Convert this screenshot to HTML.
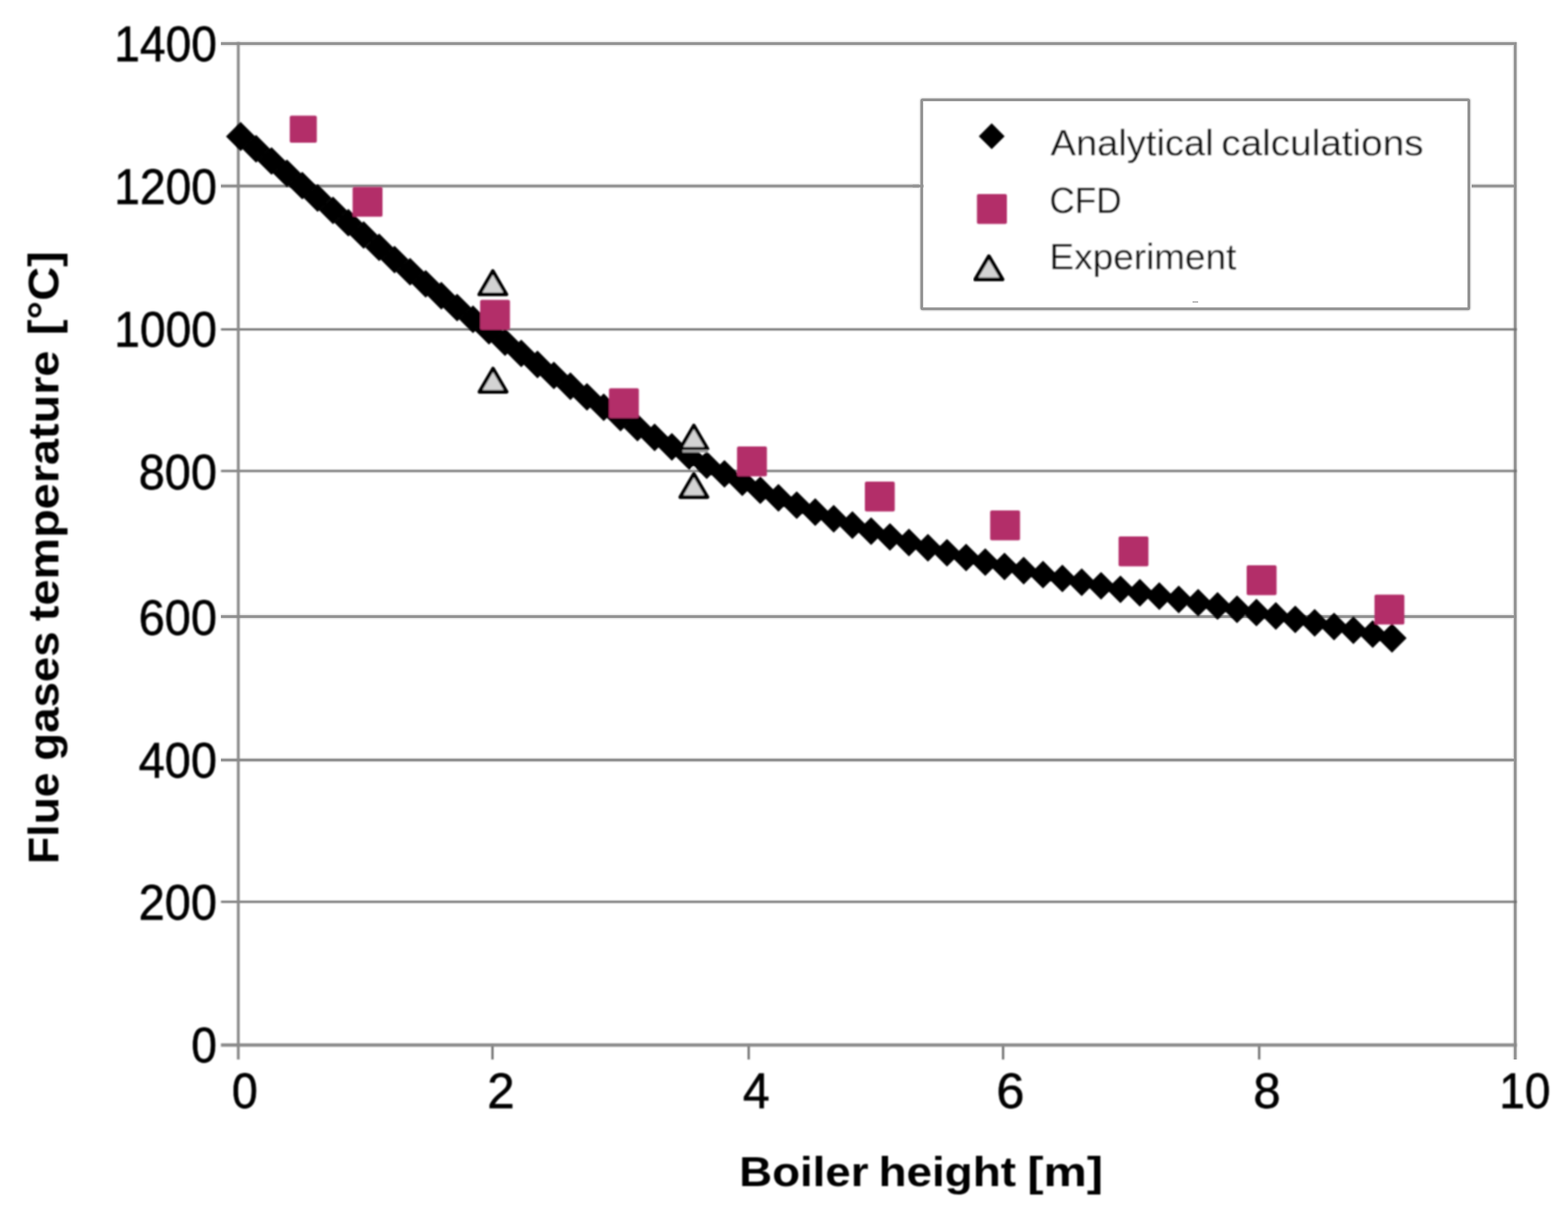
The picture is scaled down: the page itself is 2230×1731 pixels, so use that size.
<!DOCTYPE html>
<html lang="en"><head><meta charset="utf-8"><title>Flue gases temperature vs boiler height</title>
<style>
html,body{margin:0;padding:0;background:#fff;}
body{width:2230px;height:1731px;overflow:hidden;}
svg{display:block;}
text{font-family:"Liberation Sans",sans-serif;fill:#000;}
.tick{font-size:69.8px;stroke:#000;stroke-width:0.8;}
.ttl{font-weight:bold;}
.leg{font-size:51.5px;stroke:#fff;stroke-width:0.35;}
.halo{fill:#ececec;}
.a{fill:#939393;}
.b{fill:#6e6e6e;}
.c{fill:#8a8a8a;}
.tri{fill:#d3d3d3;stroke:#000;stroke-width:5.2;stroke-linejoin:round;}
.sq{fill:#b32d69;}
.dia{fill:#000;stroke:#000;stroke-width:1.2;stroke-linejoin:round;}
</style></head><body>
<svg width="2230" height="1731" viewBox="0 0 2230 1731">
<defs>
<filter id="b05" x="-5%" y="-5%" width="110%" height="110%"><feGaussianBlur stdDeviation="0.5"/></filter>
<filter id="b10" x="-5%" y="-5%" width="110%" height="110%"><feGaussianBlur stdDeviation="1.0"/></filter>
<filter id="b13" x="-5%" y="-5%" width="110%" height="110%"><feGaussianBlur stdDeviation="1.3"/></filter>
<filter id="bs" x="-5%" y="-5%" width="110%" height="110%"><feGaussianBlur stdDeviation="1.3"/></filter>
<filter id="bt" x="-5%" y="-5%" width="110%" height="110%"><feGaussianBlur stdDeviation="1.0"/></filter>
</defs>
<rect width="2230" height="1731" fill="#fff"/>
<g filter="url(#b05)"><rect class="halo" x="314.2" y="58" width="1842.7" height="8"/><rect class="halo" x="314.2" y="260.6" width="1842.7" height="8"/><rect class="halo" x="314.2" y="873" width="1842.7" height="8"/><rect class="halo" x="314.2" y="1077" width="1842.7" height="8"/><rect class="halo" x="2150.9" y="60" width="8" height="1447"/><rect class="a" x="314.2" y="60" width="1842.7" height="4"/><rect class="a" x="314.2" y="262.6" width="1842.7" height="4"/><rect class="a" x="314.2" y="875" width="1842.7" height="4"/><rect class="a" x="314.2" y="1079" width="1842.7" height="4"/><rect class="a" x="2152.9" y="60" width="4" height="1447"/></g>
<g filter="url(#b10)"><rect class="b" x="314.2" y="467" width="1842.7" height="3"/><rect class="b" x="314.2" y="668.4" width="1842.7" height="3"/><rect class="b" x="314.2" y="1281.2" width="1842.7" height="3"/><rect class="b" x="698.8" y="1486" width="3.2" height="21"/><rect class="b" x="1063.2" y="1486" width="3.2" height="21"/><rect class="b" x="1425" y="1486" width="3.2" height="21"/><rect class="b" x="1789.2" y="1486" width="3.2" height="21"/></g>
<g filter="url(#b13)"><rect class="c" x="314.2" y="1484" width="1842.7" height="4.8"/><rect class="c" x="336.9" y="60" width="4" height="1447"/></g>
<g filter="url(#bs)">
<path fill="none" stroke="#000" stroke-width="5" stroke-linejoin="round" d="M342.2 194.2L364.2 211.6L386.2 229L408.1 246.5L429.9 264L451.7 281.6L473.6 299.2L495.4 316.8L517.2 334.3L539.2 351.8L561.1 369.2L583.2 386.5L605.4 403.7L627.6 420.6L650.1 437.5L672.7 454.1L695.4 470.5L718.2 486.7L741.3 502.7L764.4 518.4L787.7 534L811.2 549.4L834.8 564.5L858.6 579.3L882.5 593.9L906.6 608.2L931 622.1L955.5 635.6L980.2 648.8L1005.1 661.6L1030.3 674L1055.7 685.9L1081.3 697.3L1107.1 708.1L1133.1 718.5L1159.4 728.4L1185.7 737.9L1212.3 746.9L1238.9 755.5L1265.7 763.7L1292.7 771.6L1319.7 779.1L1346.8 786.2L1374 793L1401.2 799.5L1428.6 805.7L1455.9 811.6L1483.4 817.3L1510.9 822.8L1538.4 828.1L1565.9 833.2L1593.5 838.2L1621.1 843.1L1648.7 847.9L1676.4 852.6L1704 857.3L1731.6 861.9L1759.3 866.6L1786.9 871.3L1814.5 876.1L1842.1 881L1869.7 885.9L1897.3 891.1L1924.8 896.4L1952.3 901.9L1979.7 907.6"/>
<path class="dia" d="M342.2 174.2l20.0 20.0l-20.0 20.0l-20.0 -20.0zM364.2 192.7l18.9 18.9l-18.9 18.9l-18.9 -18.9zM386.2 210.1l18.9 18.9l-18.9 18.9l-18.9 -18.9zM408.1 227.6l18.9 18.9l-18.9 18.9l-18.9 -18.9zM429.9 245.1l18.9 18.9l-18.9 18.9l-18.9 -18.9zM451.7 262.7l18.9 18.9l-18.9 18.9l-18.9 -18.9zM473.6 280.3l18.9 18.9l-18.9 18.9l-18.9 -18.9zM495.4 297.9l18.9 18.9l-18.9 18.9l-18.9 -18.9zM517.2 315.4l18.9 18.9l-18.9 18.9l-18.9 -18.9zM539.2 332.9l18.9 18.9l-18.9 18.9l-18.9 -18.9zM561.1 350.3l18.9 18.9l-18.9 18.9l-18.9 -18.9zM583.2 367.6l18.9 18.9l-18.9 18.9l-18.9 -18.9zM605.4 384.8l18.9 18.9l-18.9 18.9l-18.9 -18.9zM627.6 401.7l18.9 18.9l-18.9 18.9l-18.9 -18.9zM650.1 418.6l18.9 18.9l-18.9 18.9l-18.9 -18.9zM672.7 435.2l18.9 18.9l-18.9 18.9l-18.9 -18.9zM695.4 451.6l18.9 18.9l-18.9 18.9l-18.9 -18.9zM718.2 467.8l18.9 18.9l-18.9 18.9l-18.9 -18.9zM741.3 483.8l18.9 18.9l-18.9 18.9l-18.9 -18.9zM764.4 499.5l18.9 18.9l-18.9 18.9l-18.9 -18.9zM787.7 515.1l18.9 18.9l-18.9 18.9l-18.9 -18.9zM811.2 530.5l18.9 18.9l-18.9 18.9l-18.9 -18.9zM834.8 545.6l18.9 18.9l-18.9 18.9l-18.9 -18.9zM858.6 560.4l18.9 18.9l-18.9 18.9l-18.9 -18.9zM882.5 575l18.9 18.9l-18.9 18.9l-18.9 -18.9zM906.6 589.3l18.9 18.9l-18.9 18.9l-18.9 -18.9zM931 603.2l18.9 18.9l-18.9 18.9l-18.9 -18.9zM955.5 616.7l18.9 18.9l-18.9 18.9l-18.9 -18.9zM980.2 629.9l18.9 18.9l-18.9 18.9l-18.9 -18.9zM1005.1 642.7l18.9 18.9l-18.9 18.9l-18.9 -18.9zM1030.3 655.1l18.9 18.9l-18.9 18.9l-18.9 -18.9zM1055.7 667l18.9 18.9l-18.9 18.9l-18.9 -18.9zM1081.3 678.4l18.9 18.9l-18.9 18.9l-18.9 -18.9zM1107.1 689.2l18.9 18.9l-18.9 18.9l-18.9 -18.9zM1133.1 699.6l18.9 18.9l-18.9 18.9l-18.9 -18.9zM1159.4 709.5l18.9 18.9l-18.9 18.9l-18.9 -18.9zM1185.7 719l18.9 18.9l-18.9 18.9l-18.9 -18.9zM1212.3 728l18.9 18.9l-18.9 18.9l-18.9 -18.9zM1238.9 736.6l18.9 18.9l-18.9 18.9l-18.9 -18.9zM1265.7 744.8l18.9 18.9l-18.9 18.9l-18.9 -18.9zM1292.7 752.7l18.9 18.9l-18.9 18.9l-18.9 -18.9zM1319.7 760.2l18.9 18.9l-18.9 18.9l-18.9 -18.9zM1346.8 767.3l18.9 18.9l-18.9 18.9l-18.9 -18.9zM1374 774.1l18.9 18.9l-18.9 18.9l-18.9 -18.9zM1401.2 780.6l18.9 18.9l-18.9 18.9l-18.9 -18.9zM1428.6 786.8l18.9 18.9l-18.9 18.9l-18.9 -18.9zM1455.9 792.7l18.9 18.9l-18.9 18.9l-18.9 -18.9zM1483.4 798.4l18.9 18.9l-18.9 18.9l-18.9 -18.9zM1510.9 803.9l18.9 18.9l-18.9 18.9l-18.9 -18.9zM1538.4 809.2l18.9 18.9l-18.9 18.9l-18.9 -18.9zM1565.9 814.3l18.9 18.9l-18.9 18.9l-18.9 -18.9zM1593.5 819.3l18.9 18.9l-18.9 18.9l-18.9 -18.9zM1621.1 824.2l18.9 18.9l-18.9 18.9l-18.9 -18.9zM1648.7 829l18.9 18.9l-18.9 18.9l-18.9 -18.9zM1676.4 833.7l18.9 18.9l-18.9 18.9l-18.9 -18.9zM1704 838.4l18.9 18.9l-18.9 18.9l-18.9 -18.9zM1731.6 843l18.9 18.9l-18.9 18.9l-18.9 -18.9zM1759.3 847.7l18.9 18.9l-18.9 18.9l-18.9 -18.9zM1786.9 852.4l18.9 18.9l-18.9 18.9l-18.9 -18.9zM1814.5 857.2l18.9 18.9l-18.9 18.9l-18.9 -18.9zM1842.1 862.1l18.9 18.9l-18.9 18.9l-18.9 -18.9zM1869.7 867l18.9 18.9l-18.9 18.9l-18.9 -18.9zM1897.3 872.2l18.9 18.9l-18.9 18.9l-18.9 -18.9zM1924.8 877.5l18.9 18.9l-18.9 18.9l-18.9 -18.9zM1952.3 883l18.9 18.9l-18.9 18.9l-18.9 -18.9zM1979.7 887.6l20.0 20.0l-20.0 20.0l-20.0 -20.0z"/>
<rect class="sq" x="412.1" y="164.4" width="38.5" height="38.5" rx="2.5"/>
<rect class="sq" x="501.5" y="265.8" width="42.5" height="42.5" rx="2.5"/>
<rect class="sq" x="682.8" y="426.6" width="42.5" height="42.5" rx="2.5"/>
<rect class="sq" x="866.1" y="552.2" width="42.5" height="42.5" rx="2.5"/>
<rect class="sq" x="1048.2" y="635" width="42.5" height="42.5" rx="2.5"/>
<rect class="sq" x="1230" y="685.1" width="42.5" height="42.5" rx="2.5"/>
<rect class="sq" x="1408.2" y="726" width="42.5" height="42.5" rx="2.5"/>
<rect class="sq" x="1590.8" y="763" width="42.5" height="42.5" rx="2.5"/>
<rect class="sq" x="1773" y="804.1" width="42.5" height="42.5" rx="2.5"/>
<rect class="sq" x="1954.8" y="845.8" width="42.5" height="42.5" rx="2.5"/>
<path class="tri" d="M700.9 385.6L720.2 418.7L681.6 418.7z"/>
<path class="tri" d="M701.2 524.2L720.5 557.3L681.9 557.3z"/>
<path class="tri" d="M986.8 605.2L1006.1 638.3L967.5 638.3z"/>
<path class="tri" d="M986.8 674L1006.1 707.1L967.5 707.1z"/>
<rect x="970.7" y="640" width="36.1" height="3.6" fill="#a4a4a4"/>
<rect x="984.3" y="665.2" width="4" height="3" fill="#d8d8d8"/>
</g>
<g filter="url(#b05)">
<rect x="1310.9" y="142.0" width="778.1" height="297.2" rx="1.5" fill="#fff" stroke="#ececec" stroke-width="8"/>
<rect x="1310.9" y="142.0" width="778.1" height="297.2" rx="1.5" fill="#fff" stroke="#939393" stroke-width="4"/>
<rect class="a" x="1298" y="262.6" width="15.5" height="4"/>
<rect x="1696" y="428.5" width="8" height="2" fill="#aaa"/>
</g>
<g filter="url(#bs)">
<path class="dia" d="M1410.4 176.2l17.6 17.6l-17.6 17.6l-17.6 -17.6z"/>
<rect class="sq" x="1389.4" y="276" width="42.6" height="42.4" rx="2.5"/>
<path class="tri" d="M1406.4 364.4L1425.8 397.4L1387 397.4z"/>
</g>
<g filter="url(#bt)">
<text class="tick" transform="translate(308.5 86.9) scale(0.94 1)" text-anchor="end">1400</text>
<text class="tick" transform="translate(308.5 290.1) scale(0.94 1)" text-anchor="end">1200</text>
<text class="tick" transform="translate(308.5 493.2) scale(0.94 1)" text-anchor="end">1000</text>
<text class="tick" transform="translate(308.5 696.3) scale(0.955 1)" text-anchor="end">800</text>
<text class="tick" transform="translate(308.5 903.3) scale(0.955 1)" text-anchor="end">600</text>
<text class="tick" transform="translate(308.5 1106) scale(0.955 1)" text-anchor="end">400</text>
<text class="tick" transform="translate(308.5 1308.2) scale(0.955 1)" text-anchor="end">200</text>
<text class="tick" transform="translate(308.5 1510.7) scale(0.94 1)" text-anchor="end">0</text>
<text class="tick" transform="translate(348.3 1575.6) scale(0.95 1)" text-anchor="middle">0</text>
<text class="tick" transform="translate(712.4 1575.6) scale(1.0 1)" text-anchor="middle">2</text>
<text class="tick" transform="translate(1075.6 1575.6) scale(0.985 1)" text-anchor="middle">4</text>
<text class="tick" transform="translate(1436.9 1575.6) scale(1.03 1)" text-anchor="middle">6</text>
<text class="tick" transform="translate(1802.0 1575.6) scale(1.0 1)" text-anchor="middle">8</text>
<text class="tick" transform="translate(2168.6 1575.6) scale(0.94 1)" text-anchor="middle">10</text>
<text class="ttl" x="1051.3" y="1686.8" font-size="60" textLength="183.9" lengthAdjust="spacingAndGlyphs">Boiler</text>
<text class="ttl" x="1249.4" y="1686.8" font-size="60" textLength="195.6" lengthAdjust="spacingAndGlyphs">height</text>
<text class="ttl" x="1461.0" y="1686.8" font-size="60" textLength="107.9" lengthAdjust="spacingAndGlyphs">[m]</text>
<text class="ttl" transform="translate(83 1228.9) rotate(-90)" font-size="61.5" textLength="130.2" lengthAdjust="spacingAndGlyphs">Flue</text>
<text class="ttl" transform="translate(83 1081.9) rotate(-90)" font-size="61.5" textLength="183.7" lengthAdjust="spacingAndGlyphs">gases</text>
<text class="ttl" transform="translate(83 883.5) rotate(-90)" font-size="61.5" textLength="384.9" lengthAdjust="spacingAndGlyphs">temperature</text>
<text class="ttl" transform="translate(83 476.7) rotate(-90)" font-size="61.5" textLength="119.5" lengthAdjust="spacingAndGlyphs">[°C]</text>
<text class="leg" x="1494.0" y="220.6" textLength="232.05" lengthAdjust="spacingAndGlyphs">Analytical</text>
<text class="leg" x="1737.0" y="220.6" textLength="287.5" lengthAdjust="spacingAndGlyphs">calculations</text>
<text class="leg" x="1492.4" y="303.2" textLength="102.7" lengthAdjust="spacingAndGlyphs">CFD</text>
<text class="leg" x="1492.6" y="383.2" textLength="265.8" lengthAdjust="spacingAndGlyphs">Experiment</text>
</g>
</svg></body></html>
